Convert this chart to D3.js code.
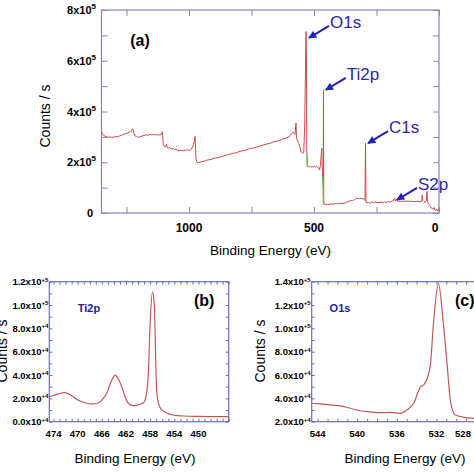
<!DOCTYPE html>
<html>
<head>
<meta charset="utf-8">
<script src="https://cdn.jsdelivr.net/npm/d3@7"></script>
<style>
  body { margin: 0; background: #fff; overflow: hidden; }
  svg { display: block; }
</style>
</head>
<body>
<svg id="chart"></svg>
<script>
let width = 474;
let height = 474;
let font = "Arial, 'Liberation Sans', sans-serif";

// survey spectrum: [binding energy eV, counts/s in 1e5]
const survey = [
  [1350, 3.22], [1347, 3.12], [1342, 3.06], [1336, 3.03], [1330, 3.0], [1322, 2.99],
  [1315, 3.0], [1308, 2.97], [1300, 3.0], [1292, 3.01], [1285, 3.0], [1278, 3.04],
  [1270, 3.06], [1262, 3.1], [1255, 3.12], [1248, 3.14], [1240, 3.18], [1234, 3.2],
  [1229, 3.27], [1226, 3.32], [1223, 3.26], [1220, 3.12], [1216, 3.04], [1210, 3.02],
  [1203, 2.98], [1196, 3.01], [1188, 3.03], [1180, 3.06], [1172, 3.08], [1165, 3.06],
  [1158, 3.09], [1150, 3.08], [1142, 3.1], [1134, 3.07], [1126, 3.09], [1118, 3.07],
  [1110, 3.1], [1107, 3.2], [1105, 3.05], [1103, 2.68], [1099, 2.62], [1094, 2.6],
  [1090, 2.72], [1087, 2.58], [1082, 2.55], [1076, 2.58], [1070, 2.52], [1064, 2.55],
  [1058, 2.5], [1052, 2.52], [1046, 2.46], [1040, 2.45], [1034, 2.48], [1028, 2.46],
  [1022, 2.45], [1016, 2.48], [1010, 2.47], [1004, 2.5], [998, 2.46], [992, 2.5],
  [986, 2.6], [982, 2.7], [978, 2.85], [976, 3.02], [974, 2.6], [972, 2.1],
  [968, 2.0], [962, 1.98], [956, 2.0], [950, 2.02], [940, 2.04], [925, 2.09],
  [912, 2.11], [900, 2.16], [888, 2.18], [875, 2.21], [862, 2.25], [850, 2.28],
  [838, 2.32], [825, 2.35], [812, 2.37], [800, 2.42], [788, 2.45], [775, 2.47],
  [762, 2.52], [750, 2.55], [738, 2.57], [725, 2.62], [712, 2.65], [700, 2.69],
  [688, 2.72], [675, 2.75], [662, 2.8], [650, 2.83], [638, 2.86], [625, 2.92],
  [612, 2.95], [600, 3.0], [592, 3.1], [583, 3.18], [576, 3.1], [572, 3.55],
  [570, 2.95], [566, 2.85], [562, 2.75], [556, 2.6], [552, 2.4], [548, 2.38],
  [545, 2.35], [543, 2.36], [541, 2.4], [537, 3.5], [534, 5.8], [532, 7.15],
  [530, 6.0], [529, 2.5], [528, 2.3], [526, 1.83], [522, 1.85], [518, 1.82],
  [514, 1.84], [510, 1.8], [506, 1.83], [502, 1.81], [498, 1.84], [494, 1.82],
  [490, 1.85], [486, 1.8], [482, 1.78], [478, 1.7], [474, 1.9], [471, 2.3],
  [469, 2.55], [468, 2.1], [466, 1.45], [463, 1.3], [462, 4.85], [461, 0.45],
  [459, 0.34], [455, 0.33], [448, 0.35], [440, 0.34], [432, 0.36], [425, 0.34],
  [418, 0.37], [410, 0.36], [402, 0.38], [395, 0.37], [388, 0.39], [380, 0.38],
  [372, 0.42], [365, 0.45], [358, 0.47], [352, 0.5], [345, 0.5], [338, 0.52],
  [332, 0.58], [325, 0.57], [318, 0.58], [310, 0.57], [302, 0.56], [296, 0.5],
  [294, 2.75], [292, 0.42], [288, 0.4], [282, 0.42], [276, 0.38], [270, 0.43],
  [262, 0.41], [255, 0.45], [248, 0.4], [240, 0.42], [232, 0.43], [225, 0.41],
  [218, 0.44], [210, 0.42], [202, 0.45], [195, 0.43], [188, 0.47], [182, 0.5],
  [178, 0.58], [175, 0.48], [170, 0.55], [166, 0.46], [160, 0.47], [150, 0.46],
  [140, 0.46], [130, 0.47], [120, 0.46], [110, 0.46], [100, 0.45], [90, 0.46],
  [80, 0.45], [72, 0.44], [69, 0.48], [67, 0.7], [65, 0.5], [60, 0.45],
  [55, 0.42], [50, 0.5], [48, 0.85], [46, 0.45], [42, 0.35], [36, 0.3],
  [30, 0.2], [25, 0.15], [20, 0.22], [16, 0.1], [10, 0.14], [6, 0.08],
  [3, 0.15], [0, 0.1],
];

// fitted background pieces (green) in the survey
const surveyBackgrounds = [
  [[529, 2.3], [528, 2.05], [527, 1.83]],
  [[466, 1.45], [464, 0.9], [462.5, 0.33]],
  [[300, 0.58], [296, 0.5]],
];

const surveyXTicks = [1250, 1000, 750, 500, 250, 0];
const surveyXLabels = [1000, 500, 0];
const surveyYTicks = [0, 1, 2, 3, 4, 5, 6, 7, 8];
const surveyYLabels = [0, 2, 4, 6, 8];

const peakNames = ["O1s", "Ti2p", "C1s", "S2p"];
const peakBE = [528, 461, 292, 176];
const peakCounts = [6.9, 4.85, 2.75, 0.52];

// Ti 2p high resolution: [eV, counts/s in 1e4]
const ti2p = [
  [474.7, 2.14], [474, 2.25], [473, 2.4], [472.3, 2.49], [471.5, 2.4], [470.4, 2.0],
  [469.5, 1.75], [468.5, 1.58], [467.5, 1.52], [466.8, 1.56], [466, 1.85], [465.2, 2.43],
  [464.5, 3.4], [463.8, 4.0], [463.2, 3.6], [462.7, 3.0], [462.2, 2.2], [461.6, 1.58],
  [460.8, 1.37], [460, 1.45], [459.1, 1.63], [458.6, 2.43], [458.3, 4.2], [458, 8.5],
  [457.6, 11.14], [457.3, 9.9], [457.1, 5.6], [456.9, 2.45], [456.3, 1.15], [455.2, 0.72],
  [454, 0.55], [452.5, 0.49], [450, 0.45], [447, 0.43], [445, 0.43],
];
const tiXTicks = [474, 470, 466, 462, 458, 454, 450];
const tiYTicks = [0, 2, 4, 6, 8, 10, 12];
const tiYLabels = ["0.0x10|+4", "2.0x10|+4", "4.0x10|+4", "6.0x10|+4", "8.0x10|+4", "1.0x10|+5", "1.2x10|+5"];

// O 1s high resolution: [eV, counts/s in 1e4]
const o1s = [
  [544.6, 3.58], [543.5, 3.5], [542.5, 3.42], [541.7, 3.35], [540.7, 3.15], [539.7, 2.94],
  [538.7, 2.84], [537.7, 2.77], [536.7, 2.8], [535.6, 2.72], [535, 3.0], [534.3, 3.58],
  [533.6, 5.0], [533.3, 5.15], [533, 5.57], [532.6, 7.0], [532.3, 10.4], [531.8, 13.86],
  [531.3, 10.4], [530.9, 6.7], [530.6, 3.86], [530.1, 2.57], [529, 2.35], [528.2, 2.29],
  [527, 2.2],
];
const oXTicks = [544, 540, 536, 532, 528];
const oYTicks = [2, 4, 6, 8, 10, 12, 14];
const oYLabels = ["2.0x10|+4", "4.0x10|+4", "6.0x10|+4", "8.0x10|+4", "1.0x10|+5", "1.2x10|+5", "1.4x10|+5"];

let svg = d3.select("svg#chart").attr("width", width).attr("height", height);

svg.append("defs")
  .append("marker")
  .attr("id", "arrowhead")
  .attr("viewBox", "0 0 10 10")
  .attr("refX", 9)
  .attr("refY", 5)
  .attr("markerWidth", 4.2)
  .attr("markerHeight", 4)
  .attr("markerUnits", "strokeWidth")
  .attr("orient", "auto")
  .append("path")
  .attr("d", "M0,0 L10,5 L0,10 z")
  .attr("fill", "#2323b8");

drawSurvey();
drawDetail({
  data: ti2p, xDomain: [474.7, 445], xRange: [49.3, 228.7],
  yDomain: [0, 12], yRange: [421.7, 281.7],
  xTicks: tiXTicks, yTicks: tiYTicks, yLabels: tiYLabels,
  name: "Ti2p", nameX: 89, panel: "(b)", panelX: 194, ylabelX: 2, titleX: 135,
});
drawDetail({
  data: o1s, xDomain: [544.6, 527], xRange: [311.7, 311.7 + 17.6 * 9.9],
  yDomain: [2, 14], yRange: [421.7, 281.7],
  xTicks: oXTicks, yTicks: oYTicks, yLabels: oYLabels,
  name: "O1s", nameX: 340, panel: "(c)", panelX: 455, ylabelX: 260, titleX: 405,
});

function styleTicks(g, color) {
  g.select(".domain").remove();
  g.selectAll("line").attr("stroke", color).attr("stroke-width", 1);
}

function drawSurvey() {
  let x = d3.scaleLinear().domain([1350, 0]).range([101.5, 439]);
  let y = d3.scaleLinear().domain([0, 8]).range([213, 10]);
  let frame = "#8686b2";
  let g = svg.append("g");

  g.append("rect")
    .attr("x", 101.5).attr("y", 10)
    .attr("width", 439 - 101.5).attr("height", 203)
    .attr("fill", "none").attr("stroke", frame).attr("stroke-width", 1.2);

  g.append("g").attr("transform", "translate(0,213)")
    .call(d3.axisBottom(x).tickValues(surveyXTicks).tickSize(-6).tickFormat(""))
    .call((a) => styleTicks(a, frame));
  g.append("g").attr("transform", "translate(0,10)")
    .call(d3.axisTop(x).tickValues(surveyXTicks).tickSize(-6).tickFormat(""))
    .call((a) => styleTicks(a, frame));
  g.append("g").attr("transform", "translate(101.5,0)")
    .call(d3.axisLeft(y).tickValues(surveyYTicks).tickSize(-6).tickFormat(""))
    .call((a) => styleTicks(a, frame));
  g.append("g").attr("transform", "translate(439,0)")
    .call(d3.axisRight(y).tickValues(surveyYTicks).tickSize(-6).tickFormat(""))
    .call((a) => styleTicks(a, frame));

  let line = d3.line().x((d) => x(d[0])).y((d) => y(d[1]));

  g.append("path")
    .datum(survey)
    .attr("d", line)
    .attr("fill", "none")
    .attr("stroke", "#cc4a4a")
    .attr("stroke-width", 1)
    .attr("stroke-linejoin", "round");

  g.selectAll("path.bg")
    .data(surveyBackgrounds)
    .join("path")
    .attr("class", "bg")
    .attr("d", line)
    .attr("fill", "none")
    .attr("stroke", "#6cbf3a")
    .attr("stroke-width", 1.1);

  g.selectAll("text.xl")
    .data(surveyXLabels)
    .join("text")
    .attr("class", "xl")
    .attr("x", (d) => Math.min(x(d), 435))
    .attr("y", 232)
    .attr("text-anchor", "middle")
    .style("font", `bold 12px ${font}`)
    .text((d) => d);

  surveyYLabels.forEach((v) => {
    let t = g.append("text")
      .attr("x", 96)
      .attr("y", y(v) + 4)
      .attr("text-anchor", "end")
      .style("font", `bold 11px ${font}`);
    if (v === 0) {
      t.attr("x", 93).text("0");
    } else {
      t.append("tspan").text(`${v}x10`);
      t.append("tspan").attr("dy", -5).style("font-size", "8px").text("5");
    }
  });

  g.append("text")
    .attr("transform", "translate(50,116) rotate(-90)")
    .attr("text-anchor", "middle")
    .style("font", `14px ${font}`)
    .text("Counts / s");

  g.append("text")
    .attr("x", 270.5)
    .attr("y", 255)
    .attr("text-anchor", "middle")
    .style("font", `13.5px ${font}`)
    .text("Binding Energy (eV)");

  g.append("text")
    .attr("x", 140)
    .attr("y", 46)
    .attr("text-anchor", "middle")
    .style("font", `bold 16px ${font}`)
    .text("(a)");

  // peak arrows
  peakNames.forEach((name, i) => {
    let tx = x(peakBE[i]) + 2;
    let ty = y(peakCounts[i]);
    g.append("line")
      .attr("x1", tx + 20).attr("y1", ty - 12)
      .attr("x2", tx).attr("y2", ty)
      .attr("stroke", "#2323b8")
      .attr("stroke-width", 2)
      .attr("marker-end", "url(#arrowhead)");
    g.append("text")
      .attr("x", tx + 21)
      .attr("y", ty - 10)
      .style("font", `17px ${font}`)
      .attr("fill", "#2a2aa0")
      .text(name);
  });
}

function drawDetail(o) {
  let x = d3.scaleLinear().domain(o.xDomain).range(o.xRange);
  let y = d3.scaleLinear().domain(o.yDomain).range(o.yRange);
  let frame = "#6e6ec0";
  let g = svg.append("g");
  let left = o.xRange[0], right = o.xRange[1];
  let bottom = o.yRange[0], top = o.yRange[1];

  g.append("rect")
    .attr("x", left).attr("y", top)
    .attr("width", right - left).attr("height", bottom - top)
    .attr("fill", "none").attr("stroke", frame).attr("stroke-width", 1.2);

  let minorX = d3.range(Math.ceil(o.xDomain[1]), Math.floor(o.xDomain[0]) + 1);
  let minorY = d3.range(o.yDomain[0], o.yDomain[1] + 0.5, 1);

  g.append("g").attr("transform", `translate(0,${bottom})`)
    .call(d3.axisBottom(x).tickValues(minorX).tickSize(-3).tickFormat(""))
    .call((a) => styleTicks(a, frame));
  g.append("g").attr("transform", `translate(0,${top})`)
    .call(d3.axisTop(x).tickValues(minorX).tickSize(-3).tickFormat(""))
    .call((a) => styleTicks(a, frame));
  g.append("g").attr("transform", `translate(${left},0)`)
    .call(d3.axisLeft(y).tickValues(minorY).tickSize(-3).tickFormat(""))
    .call((a) => styleTicks(a, frame));
  g.append("g").attr("transform", `translate(${right},0)`)
    .call(d3.axisRight(y).tickValues(minorY).tickSize(-3).tickFormat(""))
    .call((a) => styleTicks(a, frame));

  g.append("path")
    .datum(o.data)
    .attr("d", d3.line().curve(d3.curveMonotoneX).x((d) => x(d[0])).y((d) => y(d[1])))
    .attr("fill", "none")
    .attr("stroke", "#c05858")
    .attr("stroke-width", 1.2);

  g.selectAll("text.xl")
    .data(o.xTicks)
    .join("text")
    .attr("class", "xl")
    .attr("x", (d) => Math.min(x(d), 463))
    .attr("y", bottom + 15)
    .attr("text-anchor", "middle")
    .style("font", `bold 9.5px ${font}`)
    .text((d) => d);

  o.yTicks.forEach((v, i) => {
    let parts = o.yLabels[i].split("|");
    let t = g.append("text")
      .attr("x", left - 1)
      .attr("y", y(v) + 3.5)
      .attr("text-anchor", "end")
      .style("font", `bold 9.5px ${font}`);
    t.append("tspan").text(parts[0]);
    t.append("tspan").attr("dy", -3.5).style("font-size", "6px").text(parts[1]);
  });

  g.append("text")
    .attr("transform", `translate(${o.ylabelX + 5},351) rotate(-90)`)
    .attr("text-anchor", "middle")
    .style("font", `14px ${font}`)
    .text("Counts / s");

  g.append("text")
    .attr("x", o.titleX)
    .attr("y", 463)
    .attr("text-anchor", "middle")
    .style("font", `13.5px ${font}`)
    .text("Binding Energy (eV)");

  g.append("text")
    .attr("x", o.nameX)
    .attr("y", 312)
    .attr("text-anchor", "middle")
    .attr("fill", "#23239a")
    .style("font", `bold 11px ${font}`)
    .text(o.name);

  g.append("text")
    .attr("x", o.panelX)
    .attr("y", 306)
    .style("font", `bold 16px ${font}`)
    .text(o.panel);
}
</script>
</body>
</html>
